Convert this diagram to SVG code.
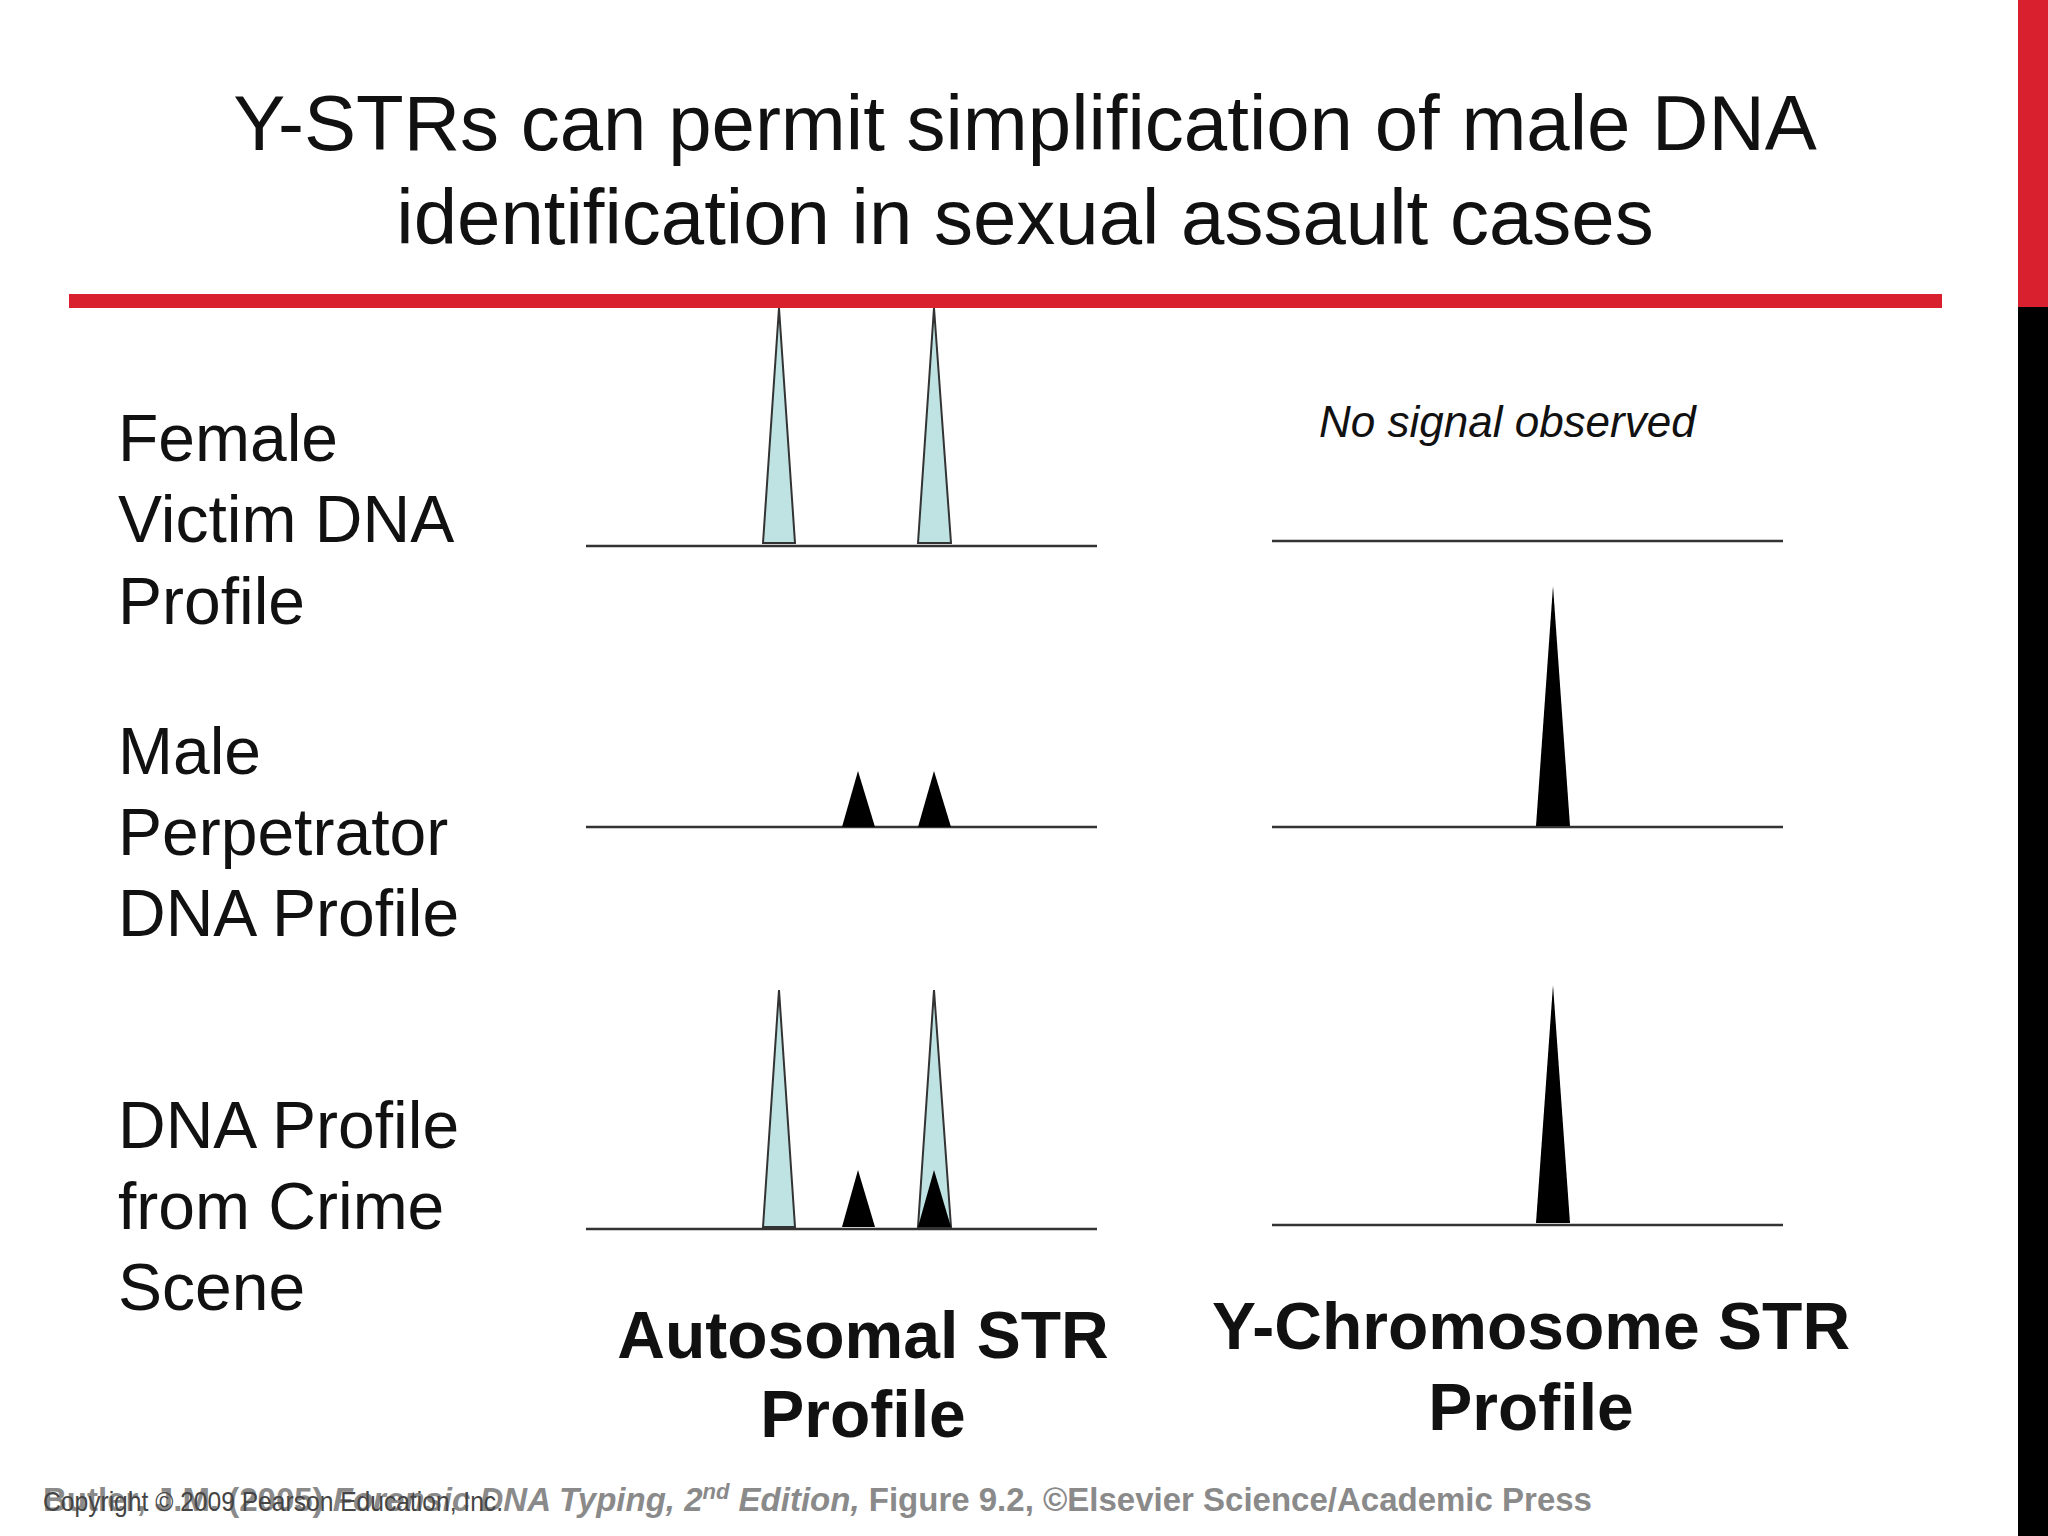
<svg xmlns="http://www.w3.org/2000/svg" width="2048" height="1536" viewBox="0 0 2048 1536">
<style>
text{font-family:"Liberation Sans",Arial,sans-serif}
.t{font-size:78px;fill:#111;text-anchor:middle}
.l{font-size:66px;fill:#111}
.b{font-size:66px;font-weight:bold;fill:#111;text-anchor:middle}
.base{stroke:#333;stroke-width:2.5}
.blue{fill:#bfe3e3;stroke:#333;stroke-width:2}
.blk{fill:#000}
.f{font-size:33px;fill:#8a8a8a}
</style>
<rect width="2048" height="1536" fill="#fff"/>
<rect x="2018" y="0" width="30" height="307" fill="#d9202e"/>
<rect x="2018" y="307" width="30" height="1229" fill="#000"/>
<g id="title">
<text class="t" x="1025" y="150">Y-STRs can permit simplification of male DNA</text>
<text class="t" x="1025" y="244">identification in sexual assault cases</text>
<rect x="69" y="294" width="1873" height="14" fill="#d9202e"/>
</g>
<g id="labels">
<text class="l" x="118" y="461">Female</text>
<text class="l" x="118" y="542">Victim DNA</text>
<text class="l" x="118" y="624">Profile</text>
<text class="l" x="118" y="774">Male</text>
<text class="l" x="118" y="855">Perpetrator</text>
<text class="l" x="118" y="936">DNA Profile</text>
<text class="l" x="118" y="1148">DNA Profile</text>
<text class="l" x="118" y="1229">from Crime</text>
<text class="l" x="118" y="1310">Scene</text>
</g>
<g id="connectors">
<line class="base" x1="586" y1="546" x2="1097" y2="546"/>
<line class="base" x1="586" y1="827" x2="1097" y2="827"/>
<line class="base" x1="586" y1="1229" x2="1097" y2="1229"/>
<line class="base" x1="1272" y1="541" x2="1783" y2="541"/>
<line class="base" x1="1272" y1="827" x2="1783" y2="827"/>
<line class="base" x1="1272" y1="1225" x2="1783" y2="1225"/>
</g>
<g id="peaks">
<polygon class="blue" points="763,543 779,308 795,543"/>
<polygon class="blue" points="918,543 934,308 951,543"/>
<polygon class="blk" points="842,827 858,771 875,827"/>
<polygon class="blk" points="918,827 934,771 951,827"/>
<polygon class="blk" points="1536,826 1553,586 1570,826"/>
<polygon class="blue" points="763,1227 779,990 795,1227"/>
<polygon class="blue" points="918,1227 934,990 951,1227"/>
<polygon class="blk" points="842,1227 858,1170 875,1227"/>
<polygon class="blk" points="918,1227 934,1170 951,1227"/>
<polygon class="blk" points="1536,1223 1553,985 1570,1223"/>
</g>
<text x="1319" y="437" font-size="44" font-style="italic" fill="#111" style="font-family:'Liberation Sans',Arial,sans-serif">No signal observed</text>
<g id="axis-labels">
<text class="b" x="863" y="1358">Autosomal STR</text>
<text class="b" x="863" y="1437">Profile</text>
<text class="b" x="1531" y="1349">Y-Chromosome STR</text>
<text class="b" x="1531" y="1430">Profile</text>
</g>
<g id="footer">
<text class="f" x="43" y="1511" font-weight="bold">Butler, J.M. (2005) <tspan font-style="italic">Forensic DNA Typing, 2<tspan font-size="22" dy="-12">nd</tspan><tspan dy="12"> Edition,</tspan></tspan> Figure 9.2, ©Elsevier Science/Academic Press</text>
<text x="43" y="1511" font-size="28" fill="#444" textLength="460" lengthAdjust="spacingAndGlyphs">Copyright © 2009 Pearson Education, Inc.</text>
</g>
</svg>
